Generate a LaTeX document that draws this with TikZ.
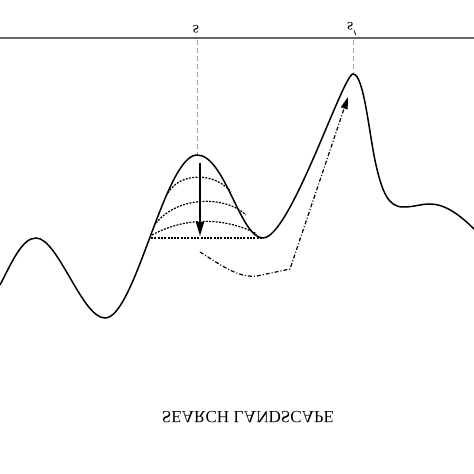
\documentclass[tikz,border=0pt]{standalone}
\usepackage{graphicx}
\usepackage{fontspec}
\setmainfont{Liberation Serif}
\usetikzlibrary{arrows.meta}
\tikzset{
  landscape/.style={line width=1.5pt, black},
  levelarc/.style={line width=1.2pt, dash pattern=on 2pt off 1.3pt},
  guide/.style={gray!70, line width=0.9pt, dash pattern=on 5pt off 3pt},
  axisline/.style={gray!80!black, line width=1.5pt},
  descent/.style={line width=1.2pt, -{Triangle[length=14pt,width=8pt]}},
  escape/.style={line width=1.2pt, dash pattern=on 4pt off 2pt on 1pt off 2pt, -{Triangle[length=12pt,width=7pt]}},
  lbl/.style={inner sep=0pt, font=\fontsize{16}{16}\selectfont}
}
\begin{document}
\begin{tikzpicture}[x=1pt,y=-1pt]
\useasboundingbox (0,0) rectangle (474,474);
% top axis line
\coordinate (L) at (0,38);
\coordinate (R) at (474,38);
\draw[axisline] (L) -- (R);
% peaks
\coordinate (P1) at (197,155);
\coordinate (P2) at (353,74);
\coordinate (T1) at (197,40);
\coordinate (T2) at (353,40);
\draw[guide] (T1) -- (P1);
\draw[guide] (T2) -- (P2);
\node[lbl] (s) at (196,29) {\scalebox{1}[-1]{s}};
\node[lbl] (sp) at (352,29) {\scalebox{1}[-1]{s$'$}};
% landscape curve
\draw[landscape]
  (0,285) .. controls (12,262) and (22,238) .. (36,238)
  .. controls (58,238) and (82,318) .. (105,318)
  .. controls (135,318) and (165,155) .. (P1)
  .. controls (225,155) and (240,238) .. (263,238)
  .. controls (290,238) and (343,74) .. (P2)
  .. controls (364,74) and (369,134) .. (376,165)
  .. controls (382,191) and (388,207) .. (403,207)
  .. controls (415,207) and (420,204) .. (430,204)
  .. controls (445,204) and (460,215) .. (474,229);
% dotted level arcs
\draw[levelarc] (168,193) .. controls (180,172) and (215,172) .. (231,192);
\draw[levelarc] (156,223) .. controls (180,194) and (228,197) .. (246,215);
\draw[levelarc] (152,235) .. controls (185,217) and (225,217) .. (257,234);
\draw[levelarc] (151,238) -- (263,238);
% descent arrow
\coordinate (D1) at (200,163);
\coordinate (D2) at (200,236);
\draw[descent] (D1) -- (D2);
% escape arrow
\coordinate (E1) at (200,252);
\coordinate (E2) at (290,269);
\coordinate (E3) at (348,97);
\draw[escape] (E1) .. controls (225,268) and (240,278) .. (257,276) -- (E2) -- (E3);
% title
\node[inner sep=0pt] (title) at (248,417) {\scalebox{1}[-1]{\resizebox{172pt}{!}{SEARCH LANDSCAPE}}};
\end{tikzpicture}
\end{document}
